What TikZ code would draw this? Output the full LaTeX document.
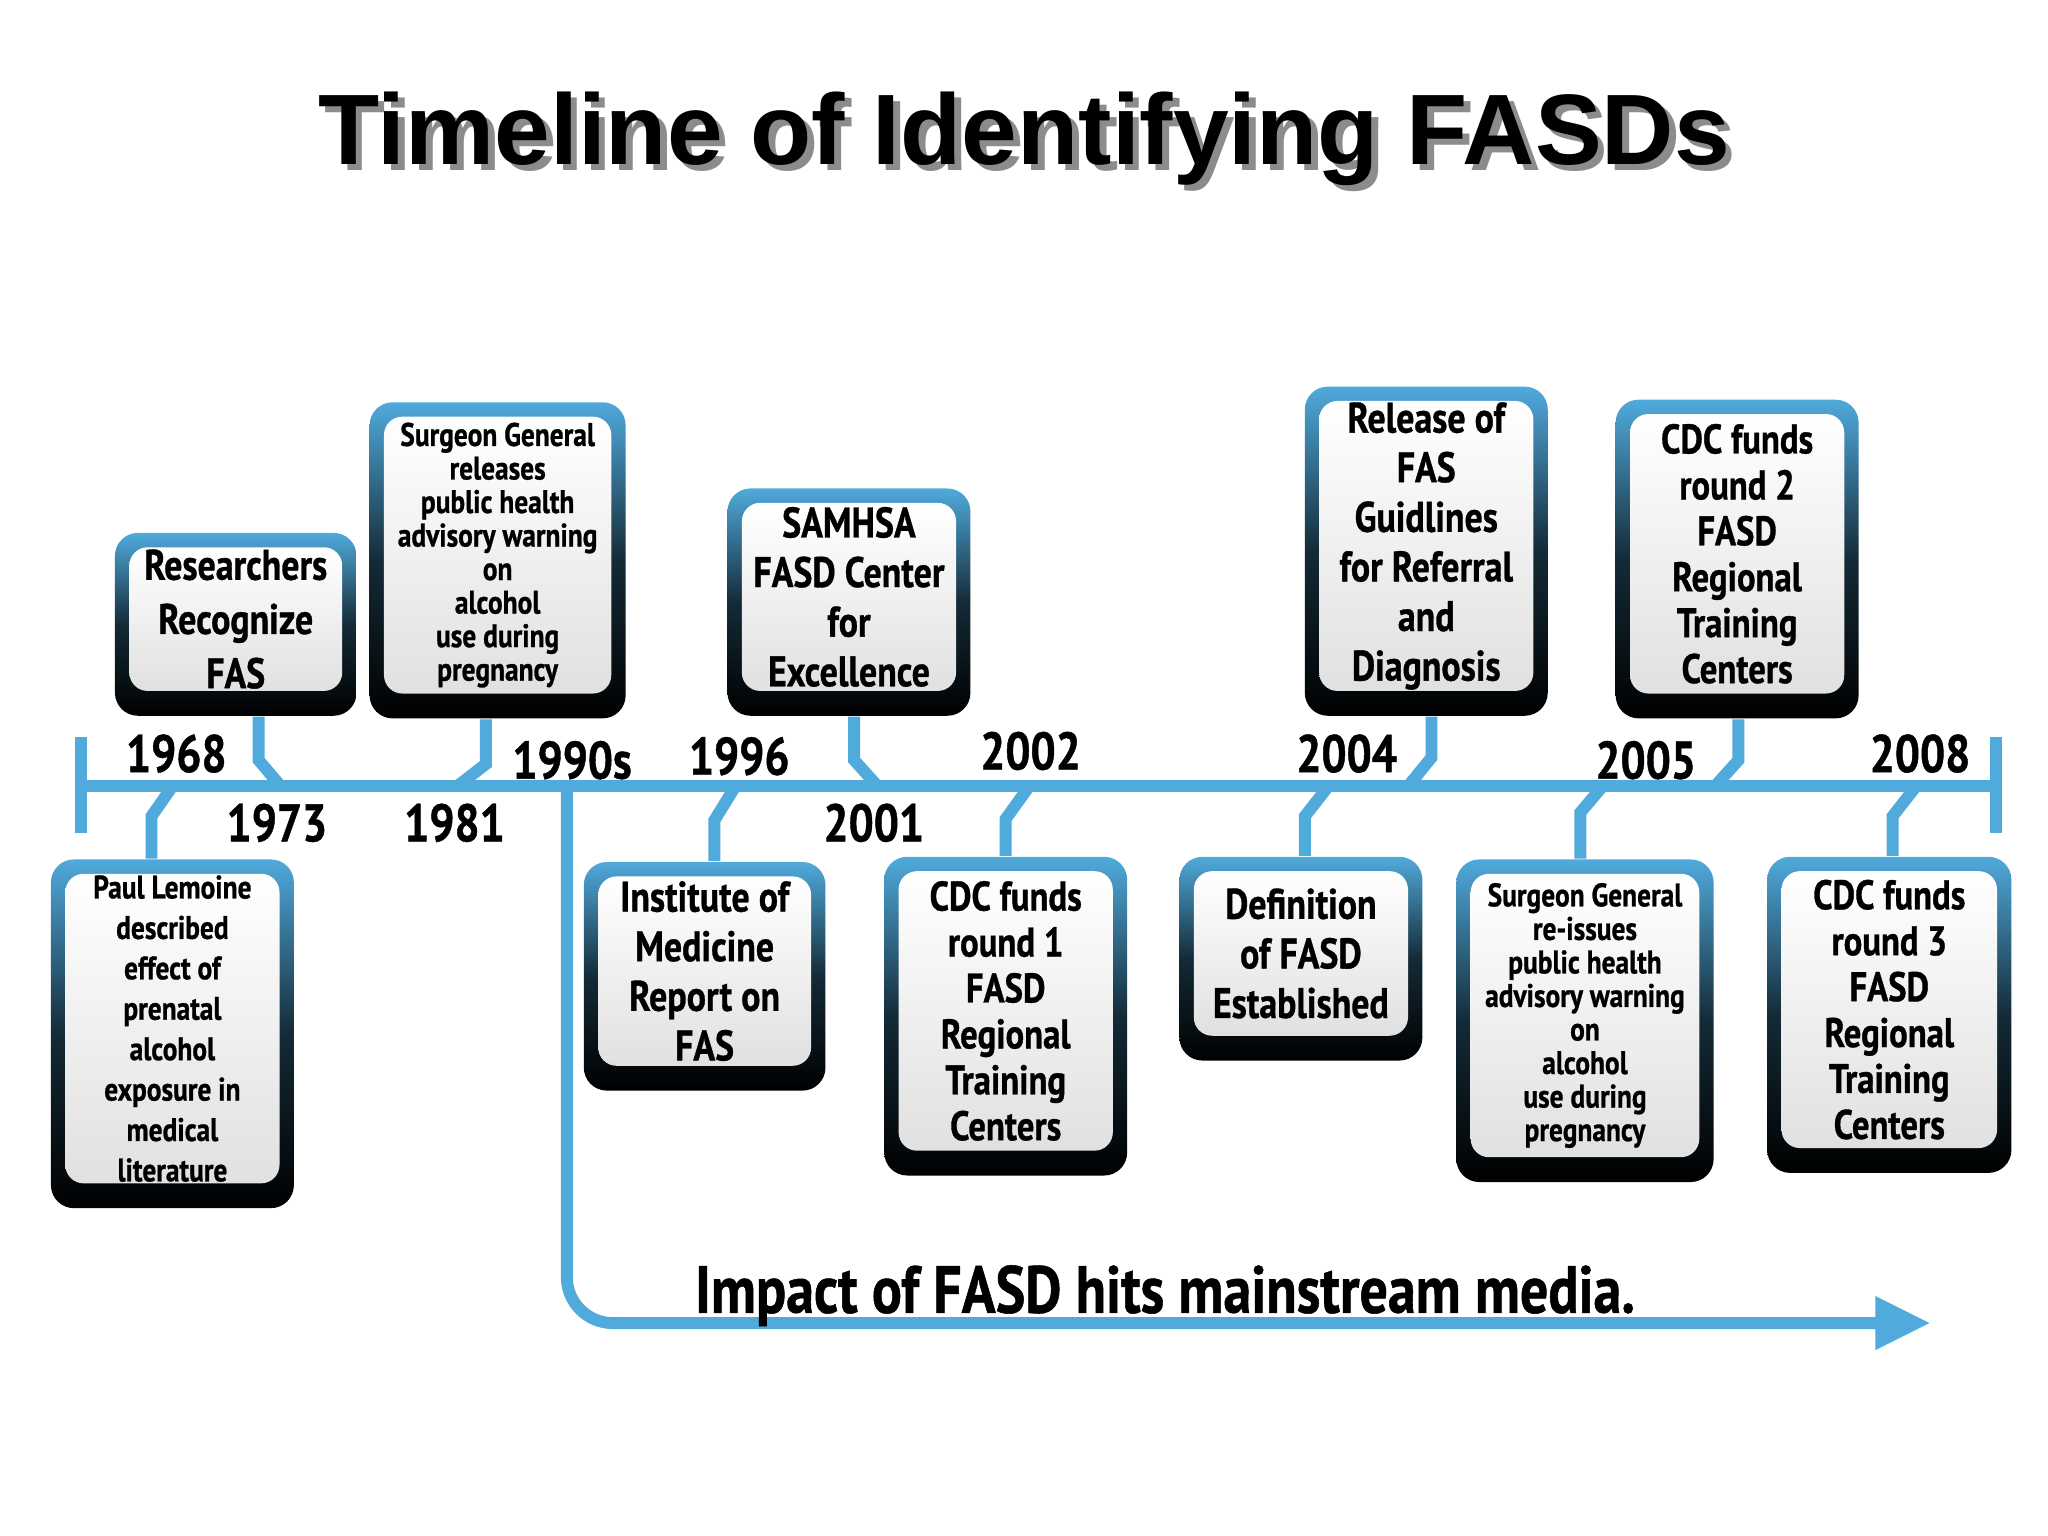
\documentclass[tikz,border=0pt]{standalone}
\usepackage{fontspec}
\setmainfont{Liberation Sans}
\newfontfamily\cf[FakeStretch=0.84,FakeBold=0.8]{PT Sans}
\usetikzlibrary{arrows.meta}
\definecolor{tlblue}{RGB}{80,170,220}
\tikzset{
 tline/.style={draw=tlblue,line width=2.6pt},
 yr/.style={font=\cf\bfseries\fontsize{11.5}{11.5}\selectfont},
 outerb/.style={rounded corners=5pt,top color=tlblue,bottom color=black,middle color=black!75!tlblue,draw=none},
 innerb/.style={rounded corners=4pt,top color=white,bottom color=black!12,draw=none,align=center,inner sep=0pt},
}
\newcommand\evbox[7]{%
 \pgfmathsetmacro\cxx{(#2+#4)/2}\pgfmathsetmacro\cyy{(#3+#5)/2}%
 \pgfmathsetmacro\ww{(#4-#2)*0.01}\pgfmathsetmacro\hh{(#5-#3)*0.01}%
 \node[outerb,minimum width=\ww cm,minimum height=\hh cm] (#1) at (\cxx,\cyy) {};
 \pgfmathsetmacro\iw{(#4-#2-22)*0.01}\pgfmathsetmacro\ih{(#5-#3-30)*0.01}%
 \pgfmathsetmacro\icy{(#3+#5)/2-4}%
 \node[innerb,minimum width=\iw cm,minimum height=\ih cm,font=\cf\bfseries#6] (#1i) at (\cxx,\icy) {#7};
}
\begin{document}
\begin{tikzpicture}[x=0.01cm,y=-0.01cm]
\useasboundingbox[fill=white] (0,0) rectangle (1568,1176);
\node[font=\bfseries\fontsize{21.8}{21.8}\selectfont,text=black!45] (tshadow) at (789,111) {Timeline of Identifying FASDs};
\node[font=\bfseries\fontsize{21.8}{21.8}\selectfont] (title) at (784,106) {Timeline of Identifying FASDs};
% main line
\coordinate (L) at (62,602); \coordinate (R) at (1528,602);
\draw[tline] (L) -- (R);
\draw[tline] (62,564) -- (62,638); \draw[tline] (1528,564) -- (1528,638);
% boxes
\def\fa{\fontsize{9.3}{10.8}\selectfont}
\def\fb{\fontsize{7.1}{7.3}\selectfont}
\def\fc{\fontsize{9}{10}\selectfont}
\evbox{b1}{88}{408}{273}{548}{\fa}{Researchers\\[1pt]Recognize\\[1pt]FAS}
\evbox{b2}{283}{308}{479}{550}{\fb}{Surgeon General\\releases\\public health\\advisory warning\\on\\alcohol\\use during\\pregnancy}
\evbox{b3}{557}{374}{743}{548}{\fa}{SAMHSA\\FASD Center\\for\\Excellence}
\evbox{b4}{999}{296}{1185}{548}{\fa}{Release of\\FAS\\Guidlines\\for Referral\\and\\Diagnosis}
\evbox{b5}{1237}{306}{1423}{550}{\fc}{CDC funds\\round 2\\FASD\\Regional\\Training\\Centers}
\evbox{b6}{39}{658}{225}{925}{\fb}{Paul Lemoine\\[1.5pt]described\\[1.5pt]effect of\\[1.5pt]prenatal\\[1.5pt]alcohol\\[1.5pt]exposure in\\[1.5pt]medical\\[1.5pt]literature}
\evbox{b7}{447}{660}{632}{835}{\fa}{Institute of\\Medicine\\Report on\\FAS}
\evbox{b8}{677}{656}{863}{900}{\fc}{CDC funds\\round 1\\FASD\\Regional\\Training\\Centers}
\evbox{b9}{903}{656}{1089}{812}{\fa}{Definition\\of FASD\\Established}
\evbox{b10}{1115}{658}{1312}{905}{\fb}{Surgeon General\\re-issues\\public health\\advisory warning\\on\\alcohol\\use during\\pregnancy}
\evbox{b11}{1353}{656}{1540}{898}{\fc}{CDC funds\\round 3\\FASD\\Regional\\Training\\Centers}
% connectors
\draw[tline] (b1.south -| 198,0) -- (198,582) -- (215,602);
\draw[tline] (b2.south -| 372,0) -- (372,585) -- (350,602);
\draw[tline] (b3.south -| 654,0) -- (654,582) -- (672,602);
\draw[tline] (b4.south -| 1096,0) -- (1096,580) -- (1078,602);
\draw[tline] (b5.south -| 1331,0) -- (1331,582) -- (1313,602);
\draw[tline] (b6.north -| 116,0) -- (116,625) -- (132,602);
\draw[tline] (b7.north -| 547,0) -- (547,628) -- (563,602);
\draw[tline] (b8.north -| 770,0) -- (770,627) -- (788,602);
\draw[tline] (b9.north -| 999,0) -- (999,625) -- (1017,602);
\draw[tline] (b10.north -| 1210,0) -- (1210,622) -- (1227,602);
\draw[tline] (b11.north -| 1449,0) -- (1449,625) -- (1467,602);
% years
\node[yr] (y1) at (135,577) {1968};
\node[yr] (y2) at (212,630) {1973};
\node[yr] (y3) at (348,630) {1981};
\node[yr] (y4) at (438,582) {1990s};
\node[yr] (y5) at (566,579) {1996};
\node[yr] (y6) at (669,630) {2001};
\node[yr] (y7) at (789,575) {2002};
\node[yr] (y8) at (1031,577) {2004};
\node[yr] (y9) at (1260,582) {2005};
\node[yr] (y10) at (1470,577) {2008};
% mainstream arrow
\coordinate (ms) at (434,602); \coordinate (me) at (1478,1013);
\draw[tline,rounded corners=10pt,-{Triangle[length=12pt,width=11pt]}] (ms) -- (434,1013) -- (me);
\node[font=\cf\bfseries\fontsize{14.5}{14.5}\selectfont] (mtxt) at (892,992) {Impact of FASD hits mainstream media.};
\end{tikzpicture}
\end{document}
